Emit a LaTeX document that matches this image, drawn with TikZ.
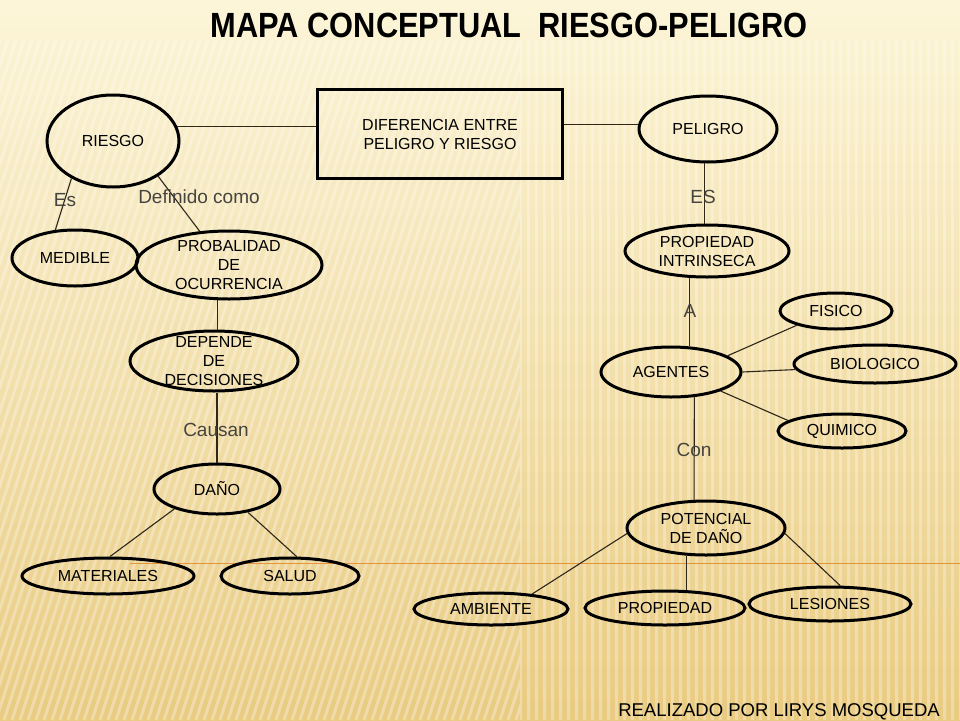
\documentclass[tikz,border=0pt]{standalone}
\usepackage{fontspec}
\setmainfont{Liberation Sans}
\usetikzlibrary{shapes.geometric,calc}
\definecolor{bgtop}{RGB}{252,245,216}
\definecolor{bgmid}{RGB}{246,229,176}
\definecolor{bgbot}{RGB}{233,203,130}
\definecolor{lblc}{RGB}{70,68,62}
\definecolor{orangeline}{RGB}{228,150,60}
\definecolor{connc}{RGB}{45,38,25}
\begin{document}
\begin{tikzpicture}[x=1pt,y=-1pt,
  ell/.style={ellipse, draw=black, line width=3pt, inner sep=0pt},
  txt/.style={font=\fontsize{16}{19}\selectfont, align=center, text=black, inner sep=0pt},
  lbl/.style={text=lblc, font=\fontsize{19}{22}\selectfont, inner sep=0pt},
  conn/.style={line width=1.1pt, draw=connc}]
\useasboundingbox (0,0) rectangle (960,720);
% background
\shade[top color=bgtop, middle color=bgmid, bottom color=bgbot] (0,0) rectangle (960,720);
\begin{scope}
  \clip (0,40) rectangle (520,720);
  \foreach \i in {-300,-292,...,520} \draw[white, opacity=.3, line width=3pt] (\i,720) -- (\i+220,40);
\end{scope}
\begin{scope}
  \clip (520,40) rectangle (960,720);
  \foreach \i in {520,528,...,960} \draw[white, opacity=.3, line width=3pt] (\i,720) -- (\i,40);
\end{scope}
\draw[orangeline, line width=1pt] (130,563) -- (960,563);
% title and footer
\node[anchor=base] (title) at (509,37) {\scalebox{0.88}[1]{\fontsize{35}{40}\bfseries\selectfont MAPA CONCEPTUAL\ \ RIESGO-PELIGRO}};
\node[anchor=base] (footer) at (779,716) {\fontsize{18.5}{22}\selectfont REALIZADO POR LIRYS MOSQUEDA};
% nodes
\node[draw=black, line width=3pt, minimum width=245pt, minimum height=89pt, inner sep=0pt,
      label={[txt]center:DIFERENCIA ENTRE\\PELIGRO Y RIESGO}] (rect) at (440,134) {};
\node[ell, minimum width=132pt, minimum height=92pt, label={[txt]center:RIESGO}] (riesgo) at (113,141) {};
\node[ell, minimum width=126pt, minimum height=56pt, label={[txt]center:MEDIBLE}] (medible) at (75,258) {};
\node[ell, minimum width=186pt, minimum height=68pt, label={[txt]center:PROBALIDAD\\DE\\OCURRENCIA}] (prob) at (229,265) {};
\node[ell, minimum width=168pt, minimum height=60pt, label={[txt]center:DEPENDE\\DE\\DECISIONES}] (dep) at (214,361) {};
\node[ell, minimum width=126pt, minimum height=50pt, label={[txt]center:DAÑO}] (dano) at (217,489) {};
\node[ell, minimum width=172pt, minimum height=36pt, label={[txt]center:MATERIALES}] (mat) at (108,576) {};
\node[ell, minimum width=138pt, minimum height=36pt, label={[txt]center:SALUD}] (salud) at (290,576) {};
\node[ell, minimum width=138pt, minimum height=66pt, label={[txt]center:PELIGRO}] (peligro) at (708,129) {};
\node[ell, minimum width=164pt, minimum height=52pt, label={[txt]center:PROPIEDAD\\INTRINSECA}] (pi) at (707,251) {};
\node[ell, minimum width=140pt, minimum height=50pt, label={[txt]center:AGENTES}] (ag) at (671,372) {};
\node[ell, minimum width=112pt, minimum height=36pt, label={[txt]center:FISICO}] (fis) at (836,311) {};
\node[ell, minimum width=162pt, minimum height=38pt, label={[txt]center:BIOLOGICO}] (bio) at (875,364) {};
\node[ell, minimum width=128pt, minimum height=34pt, label={[txt]center:QUIMICO}] (qui) at (842,431) {};
\node[ell, minimum width=158pt, minimum height=54pt, label={[txt]center:POTENCIAL\\DE DAÑO}] (pot) at (706,528) {};
\node[ell, minimum width=154pt, minimum height=32pt, label={[txt]center:AMBIENTE}] (amb) at (491,609) {};
\node[ell, minimum width=160pt, minimum height=34pt, label={[txt]center:PROPIEDAD}] (prop) at (665,608) {};
\node[ell, minimum width=162pt, minimum height=34pt, label={[txt]center:LESIONES}] (les) at (830,604) {};
% connectors
\draw[conn] (riesgo.13) -- (riesgo.13 -| rect.west);
\draw[conn] (peligro.176 -| rect.east) -- (peligro.176);
\draw[conn] (riesgo.222) -- (medible.125);
\draw[conn] (riesgo.322) -- (prob.131);
\draw[conn] (prob.252) -- (prob.252 |- dep.north);
\draw[conn] (dano.north |- dep.south) -- (dano.north);
\draw[conn] (dano.205) -- (mat.84);
\draw[conn] (dano.323) -- (salud.71);
\draw[conn] (peligro.264) -- (peligro.264 |- pi.north);
\draw[conn] (pi.237) -- (pi.237 |- ag.north);
\draw[conn] (ag.16) -- (fis.200);
\draw[conn] (ag.east) -- (bio.184);
\draw[conn] (ag.339) -- (qui.169);
\draw[conn] (ag.313) -- (pot.113);
\draw[conn] (pot.184) -- (amb.20);
\draw[conn] (pot.235) -- (pot.235 |- prop.north);
\draw[conn] (pot.356) -- (les.61);
% connector labels
\node[lbl] (lEs) at (65,200) {Es};
\node[lbl] (lDef) at (199,197) {Definido como};
\node[lbl] (lCausan) at (216,430) {Causan};
\node[lbl] (lES) at (703,197) {ES};
\node[lbl] (lA) at (690,311) {A};
\node[lbl] (lCon) at (694,450) {Con};
\end{tikzpicture}
\end{document}
